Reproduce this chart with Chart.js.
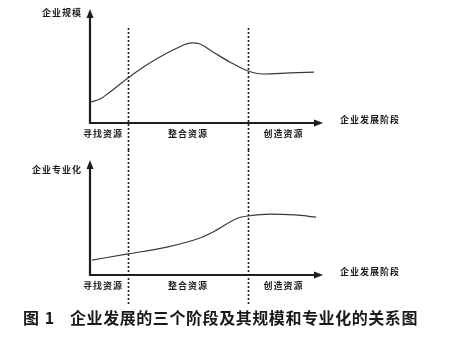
<!DOCTYPE html>
<html><head><meta charset="utf-8">
<script src="https://cdn.jsdelivr.net/npm/chart.js@4/dist/chart.umd.min.js"></script>
<style>
html,body{margin:0;padding:0;background:#fff;}
#wrap{position:relative;width:474px;height:340px;overflow:hidden;background:#fff;}
canvas{position:absolute;left:0;}
#cap{position:absolute;left:23px;top:307px;font:bold 16px/20px "Noto Sans CJK SC";color:#1a1a1a;white-space:nowrap;}
#cap span{display:inline-block;width:47px;letter-spacing:1px;}
</style></head><body>
<div id="wrap">
<canvas id="c1" width="474" height="150" style="top:0"></canvas>
<canvas id="c2" width="474" height="160" style="top:150px"></canvas>
<div id="cap"><span>图 1</span><b id="ct" style="font-weight:bold">企业发展的三个阶段及其规模和专业化的关系图</b></div>
</div>
<script>
// stage boundaries on the development axis (0..10)
const stageBounds = [1.63, 6.78];
const stageNames = ["寻找资源", "整合资源", "创造资源"];
const xAxisTitle = "企业发展阶段";
const sizeTitle = "企业规模";
const specTitle = "企业专业化";
// enterprise size curve (x = development stage, y = size)
const sizeX = [0.04, 0.43, 0.86, 1.63, 2.36, 3.0, 3.65, 4.38, 4.72, 5.28, 6.0, 6.78, 7.42, 8.58, 9.61];
const sizeY = [1.84, 2.1, 2.72, 3.95, 5.0, 5.79, 6.49, 7.02, 6.93, 6.23, 5.35, 4.56, 4.3, 4.39, 4.47];
// enterprise specialisation curve
const specX = [0.09, 1.63, 3.3, 4.72, 5.28, 6.35, 6.78, 7.73, 8.8, 9.7];
const specY = [1.3, 1.83, 2.43, 3.22, 3.74, 4.96, 5.13, 5.3, 5.22, 5.04];

// fit caption text width to the reference span (x 70..418)
(function () {
  const ct = document.getElementById('ct');
  const n = ct.textContent.length;
  ct.style.letterSpacing = '0px';
  const w = ct.getBoundingClientRect().width;
  ct.style.letterSpacing = ((348 - w) / n) + 'px';
})();

const ink = '#1e1e1e';
const deco = {
  id: 'deco',
  beforeDatasetsDraw(chart, args, o) {
    const ctx = chart.ctx, a = chart.chartArea, xs = chart.scales.x;
    ctx.save();
    ctx.strokeStyle = ink; ctx.lineWidth = 1.6; ctx.setLineDash([2, 2]);
    stageBounds.forEach(b => {
      const px = Math.round(xs.getPixelForValue(b)) + 0.5;
      ctx.beginPath(); ctx.moveTo(px, o.dashTop); ctx.lineTo(px, o.dashBottom); ctx.stroke();
    });
    ctx.setLineDash([]);
    ctx.lineWidth = 2.2;
    ctx.beginPath();
    ctx.moveTo(a.left, a.top + 6); ctx.lineTo(a.left, a.bottom); ctx.lineTo(a.right - 6, a.bottom);
    ctx.stroke();
    ctx.fillStyle = ink;
    ctx.beginPath(); ctx.moveTo(a.left, a.top); ctx.lineTo(a.left - 3.5, a.top + 9); ctx.lineTo(a.left + 3.5, a.top + 9); ctx.closePath(); ctx.fill();
    ctx.beginPath(); ctx.moveTo(a.right, a.bottom); ctx.lineTo(a.right - 9, a.bottom - 3.5); ctx.lineTo(a.right - 9, a.bottom + 3.5); ctx.closePath(); ctx.fill();
    ctx.restore();
  },
  afterDraw(chart, args, o) {
    const ctx = chart.ctx, a = chart.chartArea, xs = chart.scales.x;
    ctx.save();
    ctx.fillStyle = ink;
    ctx.font = 'bold 9px "Noto Sans CJK SC"';
    ctx.textBaseline = 'middle';
    if ('letterSpacing' in ctx) ctx.letterSpacing = '1px';
    ctx.textAlign = 'right';
    ctx.fillText(o.yTitle, a.left - 8, o.yTitleY);
    ctx.textAlign = 'left';
    ctx.fillText(xAxisTitle, a.right + 17, a.bottom - 3);
    ctx.textAlign = 'center';
    const edges = [xs.min].concat(stageBounds, [xs.max]);
    stageNames.forEach((n, i) => {
      let c = xs.getPixelForValue((edges[i] + edges[i + 1]) / 2);
      if (i === 0) c -= 6;
      if (i === 2) c -= 2;
      ctx.fillText(n, c, a.bottom + 11);
    });
    ctx.restore();
  }
};

function make(id, xsArr, ysArr, yMax, pad, extra) {
  return new Chart(document.getElementById(id), {
    type: 'line',
    data: { datasets: [{ data: xsArr.map((x, i) => ({ x, y: ysArr[i] })), borderColor: '#3a3a3a', borderWidth: 1.2, pointRadius: 0, tension: 0.4, cubicInterpolationMode: 'monotone', fill: false }] },
    options: {
      responsive: false, animation: false, devicePixelRatio: 1,
      layout: { padding: pad },
      scales: {
        x: { type: 'linear', min: 0, max: 10, display: false },
        y: { min: 0, max: yMax, display: false }
      },
      plugins: { legend: { display: false }, tooltip: { enabled: false }, deco: extra }
    },
    plugins: [deco]
  });
}
make('c1', sizeX, sizeY, 10, { left: 90, right: 151, top: 9, bottom: 27 }, { yTitle: sizeTitle, yTitleY: 13, dashTop: 28, dashBottom: 150 });
make('c2', specX, specY, 10, { left: 90, right: 151, top: 10, bottom: 35 }, { yTitle: specTitle, yTitleY: 20, dashTop: 0, dashBottom: 155 });
</script>
</body></html>
